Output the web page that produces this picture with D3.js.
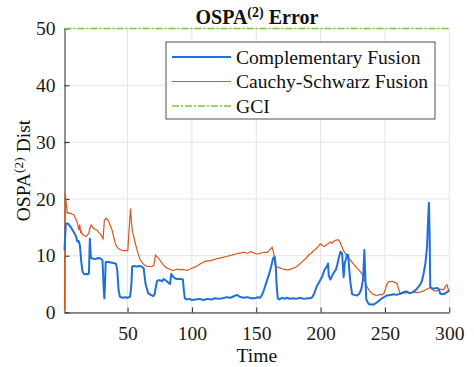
<!DOCTYPE html>
<html><head><meta charset="utf-8">
<script src="https://cdn.jsdelivr.net/npm/d3@7"></script>
<style>html,body{margin:0;padding:0;background:#fff;}svg{display:block;}</style>
</head><body>
<script>
// ---- data ----
const xTicks = [50, 100, 150, 200, 250, 300];
const yTicks = [0, 10, 20, 30, 40, 50];
const seriesNames = ["Complementary Fusion", "Cauchy-Schwarz Fusion", "GCI"];

const blueTime = [1,2,3,4,5,6,7,8,9,10,11,12,13,14,15,16,17,18,19,20,20.7,21.5,23,25,27,29,30.5,31.5,32,32.5,33,35,37,39,41,42,43,44,46,48,50,52,53,53.6,55,57,59,61,62.5,64,66,68,70,71,72,73,75,77,78,80,82,83,84,85,87,89,91,93,93.7,94.5,96,98,100,103,106,109,112,115,118,121,124,127,130,133,135,137,140,143,146,149,151,153,154.5,156,158,160,161.5,163,164.4,165.2,165.8,166.7,168,170,172,174,176,178,181,184,187,190,192,193.5,195,197,199,201,203,205,205.8,206.3,207.6,209,210.2,212,213,214,215.4,216.7,217.9,218.7,219.8,220.6,221.4,222.4,223.2,224.5,226,228.3,230,231.5,233,234,234.8,235.5,237.3,239,241.2,243.9,246,247.7,250,251.6,254,256.7,259,261.9,264.5,267.1,269,271,273,274.9,277,278.8,280,281.4,282.7,283.5,284.2,284.7,285.2,286.5,287.8,290,291.7,293,295.6,297,298.2,299.5,300];
const blueValues = [11,15.5,15.7,15.6,15.3,15,14.6,14.2,13.8,13.4,12.5,12.6,11.8,9,7.2,6.8,6.7,6.8,6.7,6.9,13,9.6,9.5,9.4,9.6,9.5,9.2,4,2.5,5,8.9,8.9,8.8,8.7,8.6,7.5,4,2.8,2.6,2.7,2.6,2.8,5,8.1,8.2,8.1,8.2,8.1,7.8,5,3.4,3.1,2.9,3.2,4.5,5.6,5.7,5.5,5.9,5.6,5.2,5,6.8,6.4,6,5.9,5.9,5.8,4,2.5,2.3,2.4,2.2,2.3,2.4,2.2,2.4,2.3,2.5,2.4,2.5,2.7,2.6,2.9,3.1,2.8,2.6,2.7,2.5,2.5,2.7,2.6,3.1,4,5.4,6.8,8,9.5,9.8,8,5,2.5,2.3,2.6,2.4,2.6,2.4,2.5,2.4,2.6,2.4,2.5,2.5,2.7,3.3,4.6,5.4,6.2,7.5,8.2,8.6,6.5,5.8,6.5,7,7.6,8.5,9.5,10.7,10.4,6.2,8.6,9.5,10.2,10.1,7.2,5.2,3.2,3.1,3,3.3,4,5.8,11,6,2.3,1.5,1.4,1.4,1.8,2.2,2.5,2.8,3,3.1,3.2,3.1,3.3,3.6,3.7,3.4,3.5,3.8,4.2,4.8,5.6,6.8,8.6,11.5,16.3,19.3,14,4.5,4.3,4.2,4.3,4.2,3.3,3.2,3.4,3.6,3.8,3.7];

const redTime = [1,1.5,2,3.1,4,5,6,7,8.2,9.5,10.8,12.1,12.9,13.5,14,15,16,17.3,18.5,19.9,21,21.7,22.5,23.8,25,26.4,27.5,29,30,31,32,33.4,34.5,35.4,36.5,38,39,40.6,42,43.2,45,47.1,49,50.2,51,52.3,53,53.6,55,56.1,58,60,62,63.5,65.2,67,69,70.4,71.7,73,74.3,76,78.1,80,82,84,85.9,88,90,91.1,93,96.3,99,101.4,104,106.6,109,112,114,117,120,124,127.4,131,134,137.7,141,143,145.5,148,150.7,153,156,158.4,160,162.3,163.6,164.5,166.2,168,170,172,174,176,179.1,182,184.5,186.9,189,191,192.5,194.6,196,198,199.8,201.5,203,205,206.5,207.6,209,210,211.5,213,214,215.2,216.7,218,219.2,221,223.1,225,226.8,228.3,230.5,232.2,234,236.1,237.5,239,240,242,243.9,246,247.5,249,250.5,251.6,253,255.5,257.5,259.4,260.5,261.9,264,267.1,270,272,274.9,277.5,280,282.5,285.2,287,288.5,290.4,292,294,295.6,297,298.2,299,300];
const redValues = [0.5,21,20,17.5,17.6,17.4,17.5,17.3,17.2,16.6,16,14.5,15.5,14,14.3,13.7,13.6,13.4,13.5,14,15,15.4,15.1,14.8,14.6,14.5,14.1,13.8,13.4,13,16.3,16.6,16.3,16,15.3,14.5,13.5,12.1,11.5,11.2,11,10.9,10.9,10.9,14,18.3,16,14.5,13.2,12.1,10.5,9.2,8.6,8.3,8.1,8.1,8.1,8.3,10.1,9.8,9.5,8.9,8.3,7.9,7.7,7.5,7.4,7.6,7.6,7.5,7.6,7.4,7.7,7.9,8.2,8.6,8.9,9.1,9.1,9.3,9.5,9.7,9.9,10.1,10.3,10.5,10.6,10.4,10.7,10.5,10.3,10.4,10.6,10.6,10.9,11.5,10.4,8.5,8,7.9,7.7,7.6,7.5,7.6,7.8,8.2,8.7,9.2,9.6,10.2,10.4,10.9,11.1,11.6,12.1,11.8,11.6,12,12.2,12.4,12.2,12.5,12.7,12.8,12.8,12.3,11.5,10.8,10.4,9.8,9.2,8.7,8.2,7.8,7.3,6.8,5.8,4.5,4,3.6,3.3,3.1,3,3.2,3.1,3.3,4.2,5.1,5.4,5.5,5.3,5.1,4.2,3.3,3.4,3.5,3.5,3.6,3.5,3.6,3.8,4.1,4.4,4,3.8,3.8,4,4.1,4,4.6,4.9,4.2,3.8];

const gciTime = [1, 300];
const gciValues = [50, 50];

// ---- chart ----
const W = 474, H = 367;
const FONT = "'Liberation Serif','Times New Roman',serif";
const FS = 19.6;
const svg = d3.select("body").append("svg").attr("width", W).attr("height", H)
  .style("font-family", FONT);
svg.append("rect").attr("width", W).attr("height", H).attr("fill", "#fff");

const x = d3.scaleLinear().domain([1, 300]).range([64.5, 449.3]);
const y = d3.scaleLinear().domain([0, 50]).range([312.5, 28.5]);

// grid
const grid = svg.append("g");
grid.selectAll(".vg").data(xTicks).enter().append("line")
  .attr("x1", d => x(d)).attr("x2", d => x(d)).attr("y1", y(0)).attr("y2", y(50))
  .attr("stroke", "#e4e4e4").attr("stroke-width", 1);
grid.selectAll(".hg").data(yTicks).enter().append("line")
  .attr("x1", x(1)).attr("x2", x(300)).attr("y1", d => y(d)).attr("y2", d => y(d))
  .attr("stroke", "#e4e4e4").attr("stroke-width", 1);

// axes
const xAxis = d3.axisBottom(x).tickValues(xTicks).tickSizeInner(-5).tickSizeOuter(0).tickPadding(12);
const gx = svg.append("g").attr("transform", `translate(0,${y(0)})`).call(xAxis)
  .attr("font-family", FONT).attr("font-size", FS);
gx.select(".domain").attr("stroke", "#262626");
gx.selectAll(".tick line").attr("stroke", "#262626");
gx.selectAll("text").attr("fill", "#1a1a1a").attr("dy", "0.72em").attr("y", 13);

const yAxis = d3.axisLeft(y).tickValues(yTicks).tickSizeInner(-5).tickSizeOuter(0).tickPadding(9);
const gy = svg.append("g").attr("transform", `translate(${x(1)},0)`).call(yAxis)
  .attr("font-family", FONT).attr("font-size", FS);
gy.select(".domain").attr("stroke", "#262626");
gy.selectAll(".tick line").attr("stroke", "#262626");
gy.selectAll("text").attr("fill", "#1a1a1a").attr("x", -9);

// lines
const line = d3.line().x(d => x(d[0])).y(d => y(d[1]));
const zip = (a, b) => a.map((t, i) => [t, b[i]]);

svg.append("path").datum(zip(redTime, redValues)).attr("d", line)
  .attr("fill", "none").attr("stroke", "#d9541e").attr("stroke-width", 1.2);
svg.append("path").datum(zip(blueTime, blueValues)).attr("d", line)
  .attr("fill", "none").attr("stroke", "#1f6fd8").attr("stroke-width", 2).attr("stroke-linejoin", "round");
svg.append("path").datum(zip(gciTime, gciValues)).attr("d", line)
  .attr("fill", "none").attr("stroke", "#7cc63a").attr("stroke-width", 1.5).attr("stroke-dasharray", "7,2,2,2");

// title
const title = svg.append("text").attr("x", (x(1) + x(300)) / 2).attr("y", 24)
  .attr("text-anchor", "middle").attr("font-size", FS + 0.4).attr("font-weight", "bold").attr("fill", "#111");
title.append("tspan").text("OSPA");
title.append("tspan").attr("font-size", 14).attr("dy", -7).text("(2)");
title.append("tspan").attr("dy", 7).text(" Error");

// x label
svg.append("text").attr("x", (x(1) + x(300)) / 2).attr("y", 362).attr("text-anchor", "middle")
  .attr("font-size", FS).attr("fill", "#111").text("Time");

// y label
const yl = svg.append("text").attr("transform", `translate(30,${(y(0) + y(50)) / 2}) rotate(-90)`)
  .attr("text-anchor", "middle").attr("font-size", FS).attr("fill", "#111");
yl.append("tspan").text("OSPA");
yl.append("tspan").attr("font-size", 13.5).attr("dy", -7).text("(2)");
yl.append("tspan").attr("dy", 7).text(" Dist");

// legend
const lg = svg.append("g");
lg.append("rect").attr("x", 166).attr("y", 42).attr("width", 269).attr("height", 77)
  .attr("fill", "#fff").attr("stroke", "#262626").attr("stroke-width", 0.8);
const lgColors = ["#1f6fd8", "#d9541e", "#7cc63a"];
const lgWidths = [2, 1.2, 1.5];
const lgDash = [null, null, "7,2,2,2"];
seriesNames.forEach((name, i) => {
  const cy = 57 + i * 24.5;
  lg.append("line").attr("x1", 172).attr("x2", 231).attr("y1", cy).attr("y2", cy)
    .attr("stroke", lgColors[i]).attr("stroke-width", lgWidths[i]).attr("stroke-dasharray", lgDash[i]);
  lg.append("text").attr("x", 236).attr("y", cy + 6.5).attr("font-size", FS).attr("fill", "#111").text(name);
});
</script>
</body></html>
